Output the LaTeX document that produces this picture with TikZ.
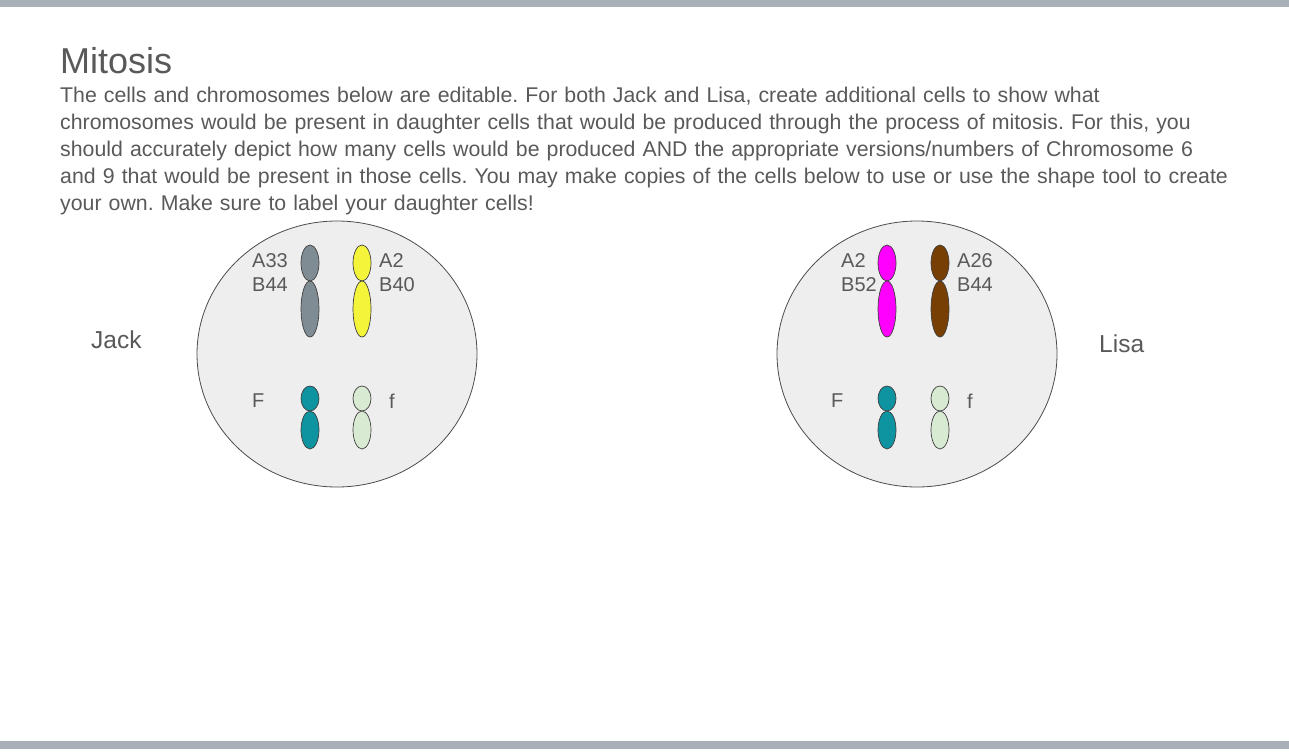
\documentclass[tikz,border=0pt]{standalone}
\usepackage{fontspec}
\setmainfont{Liberation Sans}
\usetikzlibrary{shapes.geometric}
\frenchspacing
\begin{document}
\begin{tikzpicture}[x=1pt,y=-1pt,
  txt/.style={text=tgray,font=\fontsize{21.3}{27}\selectfont,inner sep=0pt},
  lab/.style={text=tgray,font=\fontsize{20}{24}\selectfont,inner sep=0pt,anchor=west},
  big/.style={text=tgray,font=\fontsize{24.5}{28}\selectfont,inner sep=0pt,anchor=west},
  cellb/.style={draw=black!70,fill=cellfill,line width=0.8pt,ellipse,minimum width=280pt,minimum height=266pt},
  chrom/.style={draw=black!75,line width=0.7pt}]
\definecolor{tgray}{HTML}{595959}
\definecolor{bar}{HTML}{A9B0B8}
\definecolor{cellfill}{HTML}{EEEEEE}
\definecolor{cgray}{HTML}{7F8C93}
\definecolor{cyel}{HTML}{F4F53A}
\definecolor{cteal}{HTML}{0E93A0}
\definecolor{cltg}{HTML}{D9EAD3}
\definecolor{cmag}{HTML}{FF00FF}
\definecolor{cbrown}{HTML}{783F04}
\useasboundingbox (0,0) rectangle (1289,755);
\fill[bar] (0,0) rectangle (1289,7);
\fill[bar] (0,741) rectangle (1289,749);
\node[txt,anchor=base west,font=\fontsize{36}{40}\selectfont] (title) at (60,73) {Mitosis};
\node[txt,anchor=north west,align=left,text width=1220pt] (body) at (60,87) {The cells and chromosomes below are editable. For both Jack and Lisa, create additional cells to show what\\chromosomes would be present in daughter cells that would be produced through the process of mitosis. For this, you\\should accurately depict how many cells would be produced AND the appropriate versions/numbers of Chromosome 6\\and 9 that would be present in those cells. You may make copies of the cells below to use or use the shape tool to create\\your own. Make sure to label your daughter cells!};
\node[cellb] (jcell) at (337,354) {};
\node[cellb] (lcell) at (917,354) {};
\foreach \x/\c in {310/cgray,362/cyel,887/cmag,940/cbrown}{
  \draw[chrom,fill=\c] (\x,263) ellipse (9 and 18);
  \draw[chrom,fill=\c] (\x,309) ellipse (9 and 28);
}
\foreach \x/\c in {310/cteal,362/cltg,887/cteal,940/cltg}{
  \draw[chrom,fill=\c] (\x,398.5) ellipse (9 and 12.5);
  \draw[chrom,fill=\c] (\x,430) ellipse (9 and 19);
}
\node[lab] (j1) at (252,261) {A33};
\node[lab] (j2) at (252,285) {B44};
\node[lab] (j3) at (379,261) {A2};
\node[lab] (j4) at (379,285) {B40};
\node[lab] (j5) at (252,401) {F};
\node[lab] (j6) at (389,401) {f};
\node[big] (jack) at (91,340) {Jack};
\node[lab] (l1) at (841,261) {A2};
\node[lab] (l2) at (841,285) {B52};
\node[lab] (l3) at (957,261) {A26};
\node[lab] (l4) at (957,285) {B44};
\node[lab] (l5) at (831,401) {F};
\node[lab] (l6) at (967,401) {f};
\node[big] (lisa) at (1099,344) {Lisa};
\end{tikzpicture}
\end{document}
